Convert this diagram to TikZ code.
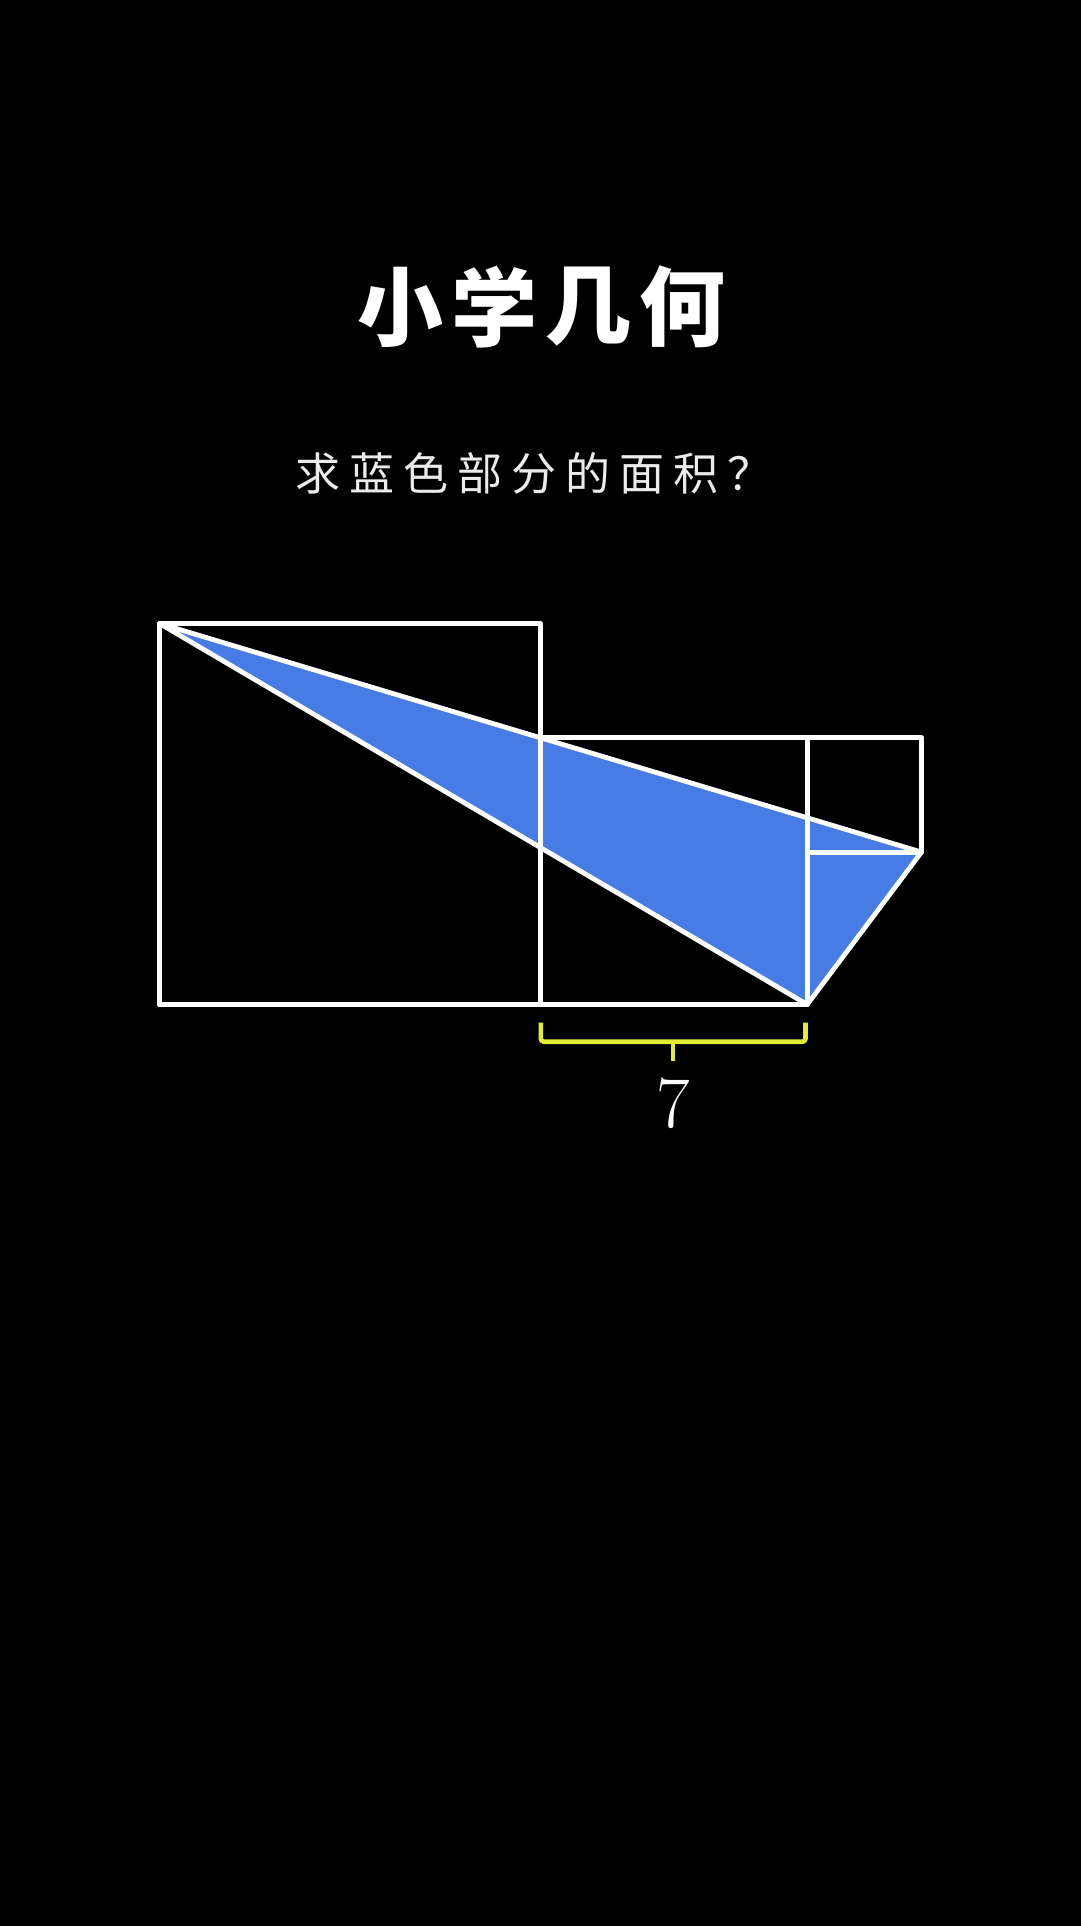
\documentclass[tikz,border=0pt]{standalone}
\usepackage{fontspec}
\setmainfont{Latin Modern Roman}
\newfontfamily\cjk{Noto Sans CJK SC}
\newfontfamily\cjksp[LetterSpace=20]{Noto Sans CJK SC}
\begin{document}
\definecolor{bluefill}{RGB}{70,124,228}
\definecolor{bracketyellow}{RGB}{226,236,52}
\begin{tikzpicture}[x=1pt,y=-1pt,
  edge/.style={draw=white,line width=4.8pt,line join=round,line cap=round},
  bracestyle/.style={draw=bracketyellow,line width=4.6pt,line join=round,line cap=butt},
  titlechar/.style={text=white,font=\cjk\bfseries\fontsize{86}{90}\selectfont,inner sep=0pt,anchor=center},
  lbl/.style={text=white,inner sep=0pt}]
\useasboundingbox (0,0) rectangle (1080,1926);
\fill[black] (-10,-10) rectangle (1090,1936);
% title
\node[titlechar] (t1) at (400,307) {小};
\node[titlechar] (t2) at (494,307) {学};
\node[titlechar] (t3) at (588,307) {几};
\node[titlechar] (t4) at (682,307) {何};
\node[lbl,font=\cjksp\fontsize{45}{48}\selectfont,text=white!92!black] (sub) at (534,473) {求蓝色部分的面积？};
% points
\coordinate (A) at (159.5,623.5);   % big top-left
\coordinate (B) at (540.5,623.5);   % big top-right
\coordinate (O) at (159.5,1004.5);  % big bottom-left
\coordinate (C) at (540.5,1004.5);  % big bottom-right
\coordinate (M1) at (540.5,737.8);  % middle top-left
\coordinate (M2) at (807.2,737.8);  % middle top-right
\coordinate (M3) at (807.2,1004.5); % middle bottom-right
\coordinate (S1) at (921.5,737.8);  % small top-right
\coordinate (S2) at (921.5,852.1);  % small bottom-right
\coordinate (S3) at (807.2,852.1);  % small bottom-left
% blue triangle
\fill[bluefill] (A) -- (S2) -- (M3) -- cycle;
% squares
\draw[edge] (O) rectangle (B);
\draw[edge] (C) -- (M1) -- (M2) -- (M3);
\draw[edge] (M2) -- (S1) -- (S2) -- (S3);
\draw[edge] (O) -- (M3);
% triangle sides
\draw[edge] (A) -- (S2) -- (M3) -- cycle;
% bracket
\coordinate (L1) at (540.8,1022.5);
\coordinate (L2) at (540.8,1041.7);
\coordinate (R1) at (805.5,1022.5);
\coordinate (R2) at (805.5,1041.7);
\coordinate (Mid) at (673,1041.7);
\coordinate (Tip) at (673,1061);
\draw[bracestyle,rounded corners=3pt] (L1) -- (L2) -- (R2) -- (R1);
\draw[bracestyle] (Mid) -- (Tip);
\node[lbl,font=\fontsize{73}{76}\selectfont,anchor=base] (seven) at (673,1127) {7};
\end{tikzpicture}
\end{document}
